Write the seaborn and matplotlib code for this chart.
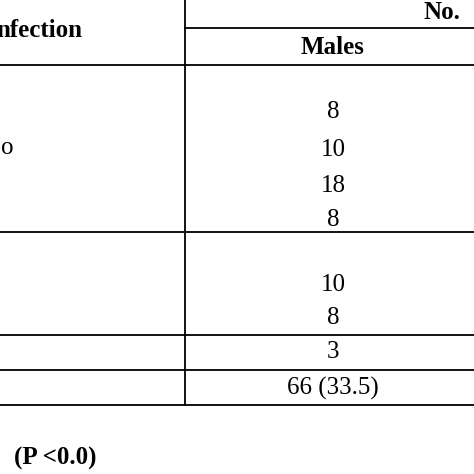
import matplotlib.pyplot as plt
import seaborn as sns

# table content (cropped view)
males = ["8", "10", "18", "8", "10", "8", "3", "66 (33.5)"]
male_rows_y = [112, 150, 186, 220, 285, 318, 352, 388]
row_lines_y = [65, 232, 335, 370, 405]

sns.set_style("white")
plt.rcParams['font.family'] = ['Liberation Serif', 'DejaVu Serif']
plt.rcParams['text.color'] = 'black'

fig = plt.figure(figsize=(4.74, 4.74), dpi=100)
ax = fig.add_axes([0, 0, 1, 1])
ax.set_xlim(0, 474)
ax.set_ylim(474, 0)
ax.axis('off')

# grid lines
ax.plot([185, 474], [28, 28], color='black', lw=1.3)
for y in row_lines_y:
    ax.plot([0, 474], [y, y], color='black', lw=1.3)
ax.plot([185, 185], [0, 405], color='black', lw=1.3)

# header
ax.text(-4, 30, "nfection", fontsize=18, fontweight='bold', va='center', ha='left')
ax.text(424, 12, "No.", fontsize=18, fontweight='bold', va='center', ha='left')
ax.text(333, 47, "Males", fontsize=18, fontweight='bold', va='center', ha='center')

ax.text(1, 148, "o", fontsize=18, va='center', ha='left')

for val, y in zip(males, male_rows_y):
    ax.text(333, y, val, fontsize=18, va='center', ha='center')

ax.text(14, 458, "(P <0.0)", fontsize=18, fontweight='bold', va='center', ha='left')

fig.savefig("out.png", dpi=100, facecolor='white')
